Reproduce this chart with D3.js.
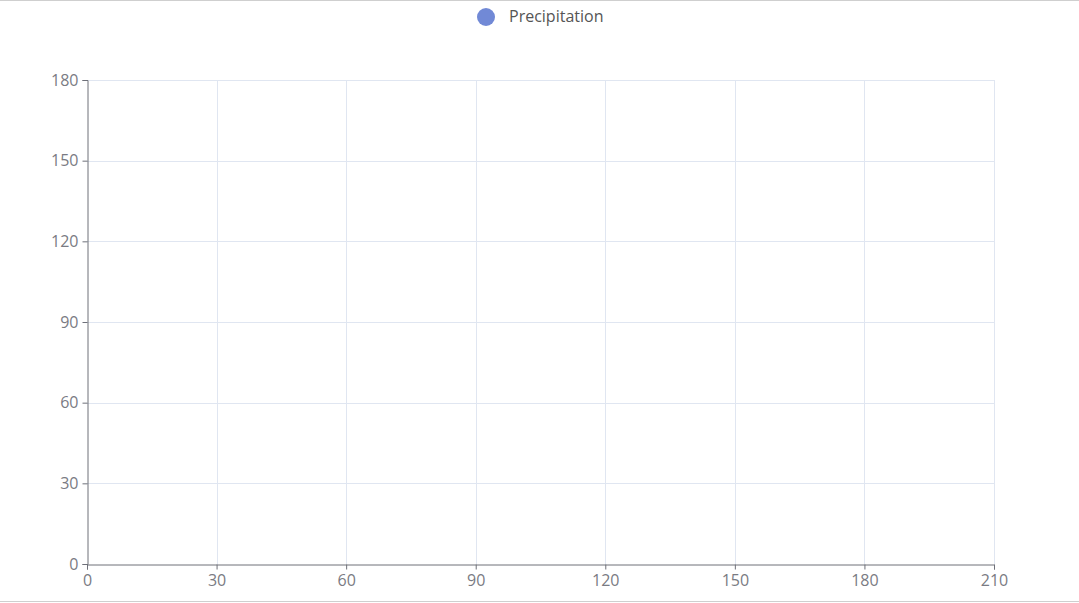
<!DOCTYPE html>
<html>
<head>
<meta charset="utf-8">
<script src="https://cdn.jsdelivr.net/npm/d3@7"></script>
<style>
  html, body { margin: 0; padding: 0; background: #fff; }
  svg { display: block; font-family: "Open Sans", "Noto Sans", sans-serif; }
</style>
</head>
<body>
<svg id="chart"></svg>
<script>
// series name and data (the reference shows an empty scatter plot)
const seriesName = 'Precipitation';
const precipitation = []; // [x, y] pairs - none visible in the picture

const xTicks = [0, 30, 60, 90, 120, 150, 180, 210];
const yTicks = [0, 30, 60, 90, 120, 150, 180];

const width = 1079, height = 603;
const margin = { top: 80, right: 85, bottom: 39, left: 87 };

const svg = d3.select('#chart')
  .attr('width', width)
  .attr('height', height);

// page border lines top and bottom
svg.append('line').attr('x1', 0).attr('x2', width).attr('y1', 0.5).attr('y2', 0.5)
  .attr('stroke', '#cfcfcf');
svg.append('line').attr('x1', 0).attr('x2', width).attr('y1', height - 1.5).attr('y2', height - 1.5)
  .attr('stroke', '#cfcfcf');

const x = d3.scaleLinear()
  .domain([xTicks[0], xTicks[xTicks.length - 1]])
  .range([margin.left, width - margin.right]);

const y = d3.scaleLinear()
  .domain([yTicks[0], yTicks[yTicks.length - 1]])
  .range([height - margin.bottom, margin.top]);

// grid
const grid = svg.append('g').attr('stroke', '#e0e6f1').attr('stroke-width', 1);
grid.selectAll('.vg')
  .data(xTicks.slice(1))
  .join('line')
  .attr('x1', d => Math.round(x(d)) + 0.5).attr('x2', d => Math.round(x(d)) + 0.5)
  .attr('y1', y.range()[1]).attr('y2', y.range()[0]);
grid.selectAll('.hg')
  .data(yTicks.slice(1))
  .join('line')
  .attr('x1', x.range()[0]).attr('x2', x.range()[1])
  .attr('y1', d => Math.round(y(d)) + 0.5).attr('y2', d => Math.round(y(d)) + 0.5);

// axes
const xAxis = svg.append('g')
  .attr('transform', `translate(0,${Math.round(y(0)) + 0.5})`)
  .call(d3.axisBottom(x).tickValues(xTicks).tickSize(5).tickPadding(5));
const yAxis = svg.append('g')
  .attr('transform', `translate(${Math.round(x(0)) + 0.5},0)`)
  .call(d3.axisLeft(y).tickValues(yTicks).tickSize(5).tickPadding(4));

[xAxis, yAxis].forEach(a => {
  a.select('.domain').attr('stroke', '#6e7079');
  a.selectAll('.tick line').attr('stroke', '#6e7079');
  a.selectAll('.tick text')
    .attr('fill', '#7a7b83')
    .style('font-size', '16px')
    .style('font-family', '"Open Sans", "Noto Sans", sans-serif');
});

// points
svg.append('g')
  .selectAll('circle')
  .data(precipitation)
  .join('circle')
  .attr('cx', d => x(d[0]))
  .attr('cy', d => y(d[1]))
  .attr('r', 6)
  .attr('fill', '#5470c6');

// legend
const legend = svg.append('g').attr('transform', 'translate(486,17)');
legend.append('circle').attr('r', 9).attr('fill', '#7189d6');
legend.append('text')
  .attr('x', 23)
  .attr('y', -1)
  .attr('dy', '0.35em')
  .attr('fill', '#555')
  .style('font-size', '16px')
  .text(seriesName);
</script>
</body>
</html>
